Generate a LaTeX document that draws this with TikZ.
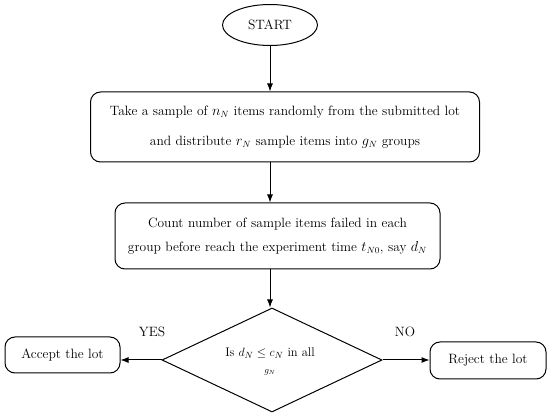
\documentclass[tikz,border=0pt]{standalone}
\usetikzlibrary{shapes.geometric,arrows.meta}
\begin{document}
\begin{tikzpicture}[x=1pt,y=-1pt,
  every node/.style={font=\fontsize{13.5}{16}\selectfont},
  line/.style={line width=1pt},
  box/.style={draw, line, rounded corners=10pt, align=center, inner sep=0pt},
  arr/.style={line, -{Latex[length=8pt,width=6pt]}},
  lbl/.style={font=\fontsize{13.5}{16}\selectfont}]
\useasboundingbox (0,0) rectangle (550,414);
\node[draw, line, ellipse, minimum width=95pt, minimum height=41pt, inner sep=0pt] (start) at (270,25) {START};
\node[box, minimum width=389pt, minimum height=70pt, font=\fontsize{13.5}{30}\selectfont] (b1) at (285,127)
  {Take a sample of $n_N$ items randomly from the submitted lot\\and distribute $r_N$ sample items into $g_N$ groups};
\node[box, minimum width=325pt, minimum height=66pt, font=\fontsize{13.5}{24}\selectfont] (b2) at (277.5,236)
  {Count number of sample items failed in each\\group before reach the experiment time $t_{N0}$, say $d_N$};
\node[draw, line, diamond, minimum width=220pt, minimum height=104pt, inner sep=0pt] (dec) at (272,360) {};
\node[font=\fontsize{12.5}{14}\selectfont] (q1) at (270,353) {Is $d_N \le c_N$ in all};
\node[font=\fontsize{9}{11}\selectfont] (q2) at (270,372) {$g_N$};
\node[box, minimum width=115pt, minimum height=36pt] (acc) at (62.5,355) {Accept the lot};
\node[box, minimum width=116pt, minimum height=37pt] (rej) at (488,360.5) {Reject the lot};
\node[lbl] (yes) at (152,332) {YES};
\node[lbl] (no) at (405,332) {NO};
\draw[arr] (start.south) -- (start.south |- b1.north);
\draw[arr] (start.south |- b1.south) -- (start.south |- b2.north);
\draw[arr] (start.south |- b2.south) -- (start.south |- dec.north);
\draw[arr] (dec.west) -- (dec.west -| acc.east);
\draw[arr] (dec.east) -- (dec.east -| rej.west);
\end{tikzpicture}
\end{document}
